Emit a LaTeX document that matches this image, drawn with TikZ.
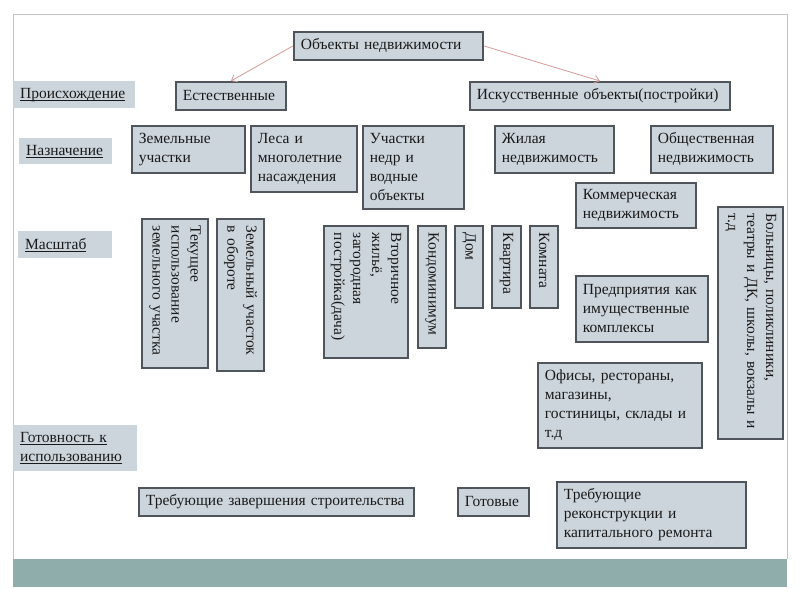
\documentclass[tikz,border=0pt]{standalone}
\usepackage{fontspec}
\setmainfont{Liberation Serif}
\usetikzlibrary{arrows.meta}
\definecolor{boxfill}{HTML}{CDD5DC}
\definecolor{boxline}{HTML}{50555B}
\definecolor{arrowpink}{HTML}{D39C98}
\definecolor{band}{HTML}{8FAEAB}
\definecolor{frameline}{HTML}{C4C4C4}
\definecolor{ink}{HTML}{1A1A1A}
\newcommand\tagline[1]{\leavevmode\setbox0\hbox{#1}\rlap{\rule[-2pt]{\wd0}{0.6pt}}\copy0}
\tikzset{
  box/.style={draw=boxline, fill=boxfill, line width=1.8pt, inner xsep=7pt, inner ysep=2pt,
    align=left, anchor=north west, text=ink, font=\fontsize{15.5}{19}\selectfont},
  vbox/.style={box, rotate=-90},
  tag/.style={fill=boxfill, inner xsep=7pt, inner ysep=2pt, align=left, anchor=north west,
    text=ink, font=\fontsize{15.5}{19}\selectfont},
  arr/.style={draw=arrowpink, line width=0.8pt, -{Straight Barb[length=5pt,width=8pt]}}
}
\begin{document}
\begin{tikzpicture}[x=1pt, y=-1pt]
\useasboundingbox (0,0) rectangle (800,600);
\fill[white] (0,0) rectangle (800,600);
\draw[frameline] (13,559) -- (13,14) -- (787,14) -- (787,559);
\fill[band] (13,559) rectangle (787,587);
\node[tag, text width=108pt, minimum height=27pt] (orig) at (13,81){\tagline{Происхождение}};
\node[tag, text width=79pt, minimum height=26pt] (purp) at (19,138){\tagline{Назначение}};
\node[tag, text width=80pt, minimum height=27pt] (scal) at (18,231){\tagline{Масштаб}};
\node[tag, text width=110pt, minimum height=46pt] (ready) at (13,425){\tagline{Готовность к}\\\tagline{использованию}};
\node[box, text width=175pt, minimum height=28pt] (obj) at (293,31){Объекты недвижимости};
\node[box, text width=96pt, minimum height=28pt] (nat) at (175,81){Естественные};
\node[box, text width=246pt, minimum height=28pt] (art) at (469,81){Искусственные объекты(постройки)};
\draw[arr] (obj.west) -- (nat.north);
\draw[arr] (obj.east) -- (art.north);
\node[box, text width=99pt, minimum height=47pt] (land) at (131,125){Земельные\\участки};
\node[box, text width=92pt, minimum height=66pt] (forest) at (250,125){Леса и\\многолетние\\насаждения};
\node[box, text width=87pt, minimum height=83pt] (subsoil) at (362,125){Участки\\недр и\\водные\\объекты};
\node[box, text width=105pt, minimum height=47pt] (living) at (494,125){Жилая\\недвижимость};
\node[box, text width=108pt, minimum height=47pt] (public) at (650,125){Общественная\\недвижимость};
\node[box, text width=106pt, minimum height=45pt] (comm) at (575,182){Коммерческая\\недвижимость};
\node[vbox, text width=135pt, minimum height=66pt] (curuse) at (209,218){Текущее\\использование\\земельного участка};
\node[vbox, text width=138pt, minimum height=47pt] (turnover) at (265,218){Земельный участок\\в обороте};
\node[vbox, text width=118pt, minimum height=84pt] (second) at (409,225){Вторичное\\жильё,\\загородная\\постройка(дача)};
\node[vbox, text width=108pt, minimum height=28pt] (condo) at (447,225){Кондоминимум};
\node[vbox, text width=68pt, minimum height=28pt] (house) at (484,225){Дом};
\node[vbox, text width=68pt, minimum height=29pt] (flat) at (522,225){Квартира};
\node[vbox, text width=68pt, minimum height=28pt] (room) at (559,225){Комната};
\node[vbox, text width=218pt, minimum height=65pt] (social) at (784,206){Больницы, поликлиники,\\театры и ДК, школы, вокзалы и\\т.д};
\node[box, text width=118pt, minimum height=66pt] (firms) at (575,275){Предприятия как\\имущественные\\комплексы};
\node[box, text width=150pt, minimum height=85pt] (offices) at (537,362){Офисы, рестораны,\\магазины,\\гостиницы, склады и\\т.д};
\node[box, text width=261pt, minimum height=28pt] (unfin) at (138,487){Требующие завершения строительства};
\node[box, text width=57pt, minimum height=28pt] (done) at (457,487){Готовые};
\node[box, text width=175pt, minimum height=66pt] (repair) at (556,481){Требующие\\реконструкции и\\капитального ремонта};
\end{tikzpicture}
\end{document}
